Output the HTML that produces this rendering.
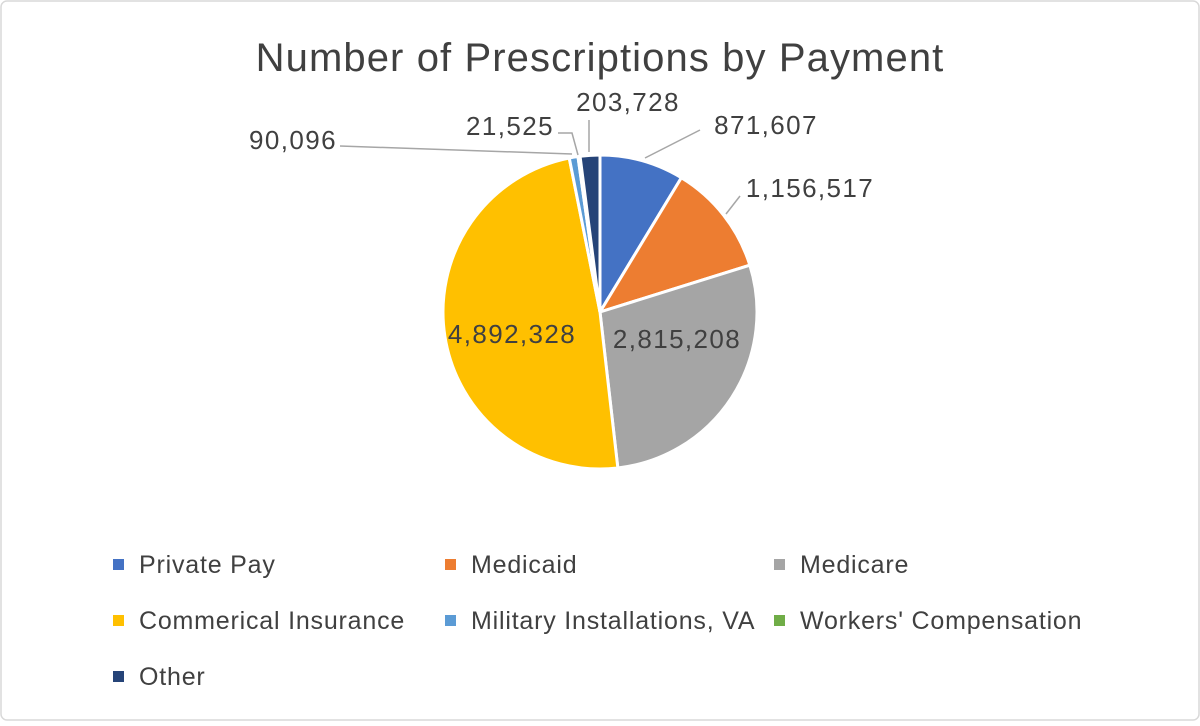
<!DOCTYPE html>
<html><head><meta charset="utf-8"><style>
html,body{margin:0;padding:0;background:#fff}
svg text{font-family:"Liberation Sans",sans-serif;fill:#404040}
</style></head><body>
<svg width="1200" height="721" viewBox="0 0 1200 721">
<rect x="1" y="1" width="1198" height="719" rx="6" fill="#fff" stroke="#d9d9d9" stroke-width="1.5"/>
<text x="600" y="71" text-anchor="middle" font-size="40" letter-spacing="1.1" fill="#595959">Number of Prescriptions by Payment</text>
<g id="slices"></g>
<g id="leaders" stroke="#a6a6a6" stroke-width="1.5" fill="none">
<polyline points="700,130 645,158"/>
<polyline points="740,196 726,214"/>
<polyline points="340,146 572,154"/>
<polyline points="558,133 572,133 578,155"/>
<polyline points="589,120 589,152"/>
</g>
<g id="labels" font-size="26" letter-spacing="1.4"></g>
<g id="legend" font-size="25" letter-spacing="0.8"></g>
</svg>
<script>
const categories=["Private Pay","Medicaid","Medicare","Commerical Insurance","Military Installations, VA","Workers' Compensation","Other"];
const values=[871607,1156517,2815208,4892328,90096,21525,203728];
const labels=["871,607","1,156,517","2,815,208","4,892,328","90,096","21,525","203,728"];
const colors=["#4472c4","#ed7d31","#a5a5a5","#ffc000","#5b9bd5","#70ad47","#264478"];
const labelPos=[[766,134],[810,197],[677,348],[512,343],[293,149],[510,135],[628,111]];
const NS="http://www.w3.org/2000/svg";
const cx=600,cy=312,r=157;
const total=values.reduce((a,b)=>a+b,0);
let a=0;
const g=document.getElementById('slices');
values.forEach((v,i)=>{
  const a2=a+v/total*2*Math.PI;
  const x1=cx+r*Math.sin(a),y1=cy-r*Math.cos(a),x2=cx+r*Math.sin(a2),y2=cy-r*Math.cos(a2);
  const p=document.createElementNS(NS,'path');
  p.setAttribute('d',`M${cx},${cy}L${x1},${y1}A${r},${r} 0 ${a2-a>Math.PI?1:0} 1 ${x2},${y2}Z`);
  p.setAttribute('fill',colors[i]);p.setAttribute('stroke','#fff');p.setAttribute('stroke-width','3');
  
  
  g.appendChild(p);a=a2;
});
const lg=document.getElementById('labels');
labels.forEach((t,i)=>{
  const e=document.createElementNS(NS,'text');
  e.setAttribute('x',labelPos[i][0]);e.setAttribute('y',labelPos[i][1]);
  e.setAttribute('text-anchor','middle');e.textContent=t;
  
  
  lg.appendChild(e);
});
const leg=document.getElementById('legend');
const cols=[118,450,779];
categories.forEach((c,i)=>{
  const x=cols[i%3],y=564+Math.floor(i/3)*56;
  const rc=document.createElementNS(NS,'rect');
  rc.setAttribute('x',x-5);rc.setAttribute('y',y-5);rc.setAttribute('width',11);rc.setAttribute('height',11);rc.setAttribute('fill',colors[i]);
  
  
  leg.appendChild(rc);
  const t=document.createElementNS(NS,'text');
  t.setAttribute('x',x+21);t.setAttribute('y',y+9);t.setAttribute('fill','#595959');t.textContent=c;
  
  
  leg.appendChild(t);
});
</script>
</body></html>
